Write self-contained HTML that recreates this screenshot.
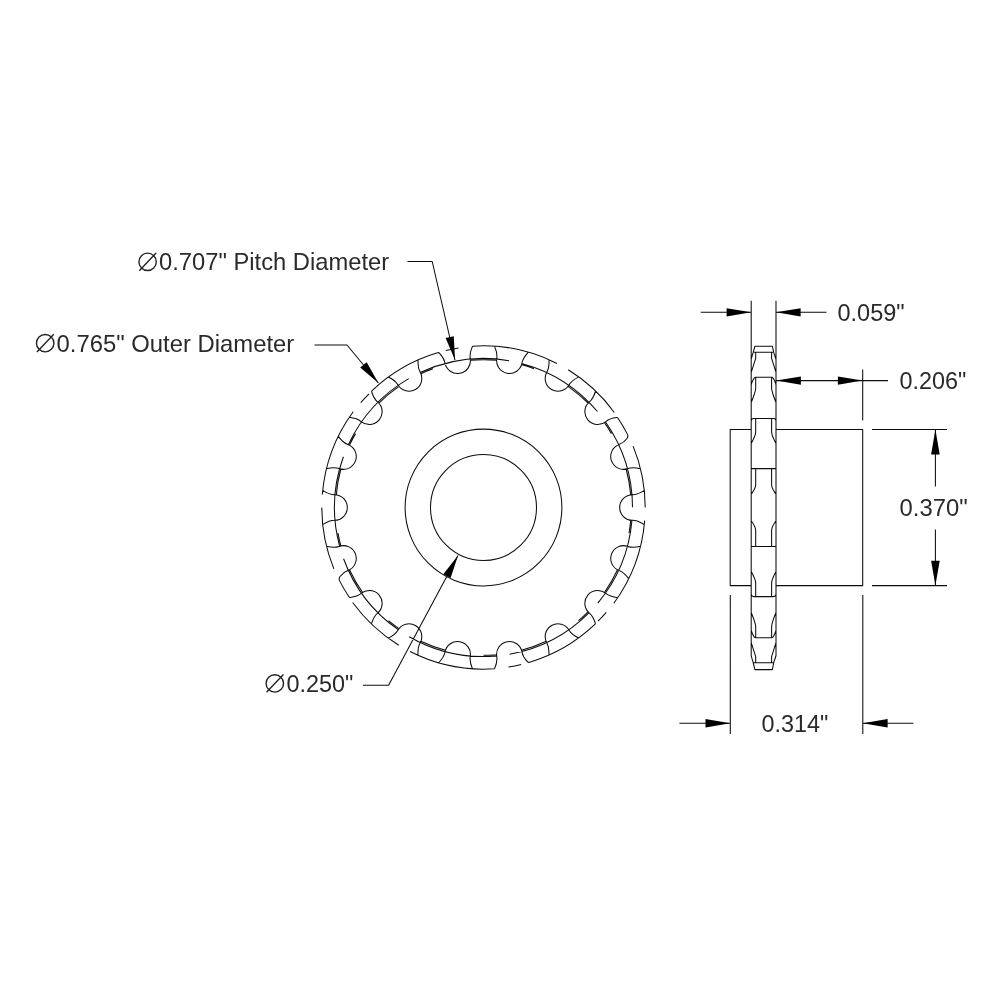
<!DOCTYPE html>
<html><head><meta charset="utf-8"><title>Sprocket drawing</title>
<style>
html,body{margin:0;padding:0;background:#fff;}
body{width:1000px;height:1000px;overflow:hidden;}
svg{display:block;filter:grayscale(1);}
.ln path,.ln circle{fill:none;stroke:#0c0c0c;stroke-width:1.05;stroke-linecap:butt;stroke-linejoin:round;}
.ln .ah{fill:#000;stroke:none;}
.ln .t{stroke:#222;stroke-width:1.4;}
text{font-family:"Liberation Sans",sans-serif;font-size:24.2px;fill:#2a2a2a;}
</style></head><body>
<svg width="1000" height="1000" viewBox="0 0 1000 1000">
<rect width="1000" height="1000" fill="#fff"/>
<g class="ln">
<path d="M496.77 358.54A12.80 12.80 0 0 0 521.98 362.99M546.91 372.06A12.80 12.80 0 0 0 569.09 384.86M589.41 401.92A12.80 12.80 0 0 0 605.87 421.53M619.14 444.51A12.80 12.80 0 0 0 627.89 468.57M632.50 494.70A12.80 12.80 0 0 0 632.50 520.30M627.89 546.43A12.80 12.80 0 0 0 619.14 570.49M605.87 593.47A12.80 12.80 0 0 0 589.41 613.08M569.09 630.14A12.80 12.80 0 0 0 546.91 642.94M521.98 652.01A12.80 12.80 0 0 0 496.77 656.46M470.23 656.46A12.80 12.80 0 0 0 445.02 652.01M420.09 642.94A12.80 12.80 0 0 0 397.91 630.14M377.59 613.08A12.80 12.80 0 0 0 361.13 593.47M347.86 570.49A12.80 12.80 0 0 0 339.11 546.43M334.50 520.30A12.80 12.80 0 0 0 334.50 494.70M339.11 468.57A12.80 12.80 0 0 0 347.86 444.51M361.13 421.53A12.80 12.80 0 0 0 377.59 401.92M397.91 384.86A12.80 12.80 0 0 0 420.09 372.06M445.02 362.99A12.80 12.80 0 0 0 470.23 358.54M470.23 358.54Q469.36 353.62 472.50 346.17M496.77 358.54Q497.64 353.62 494.50 346.17M521.98 362.99Q522.85 358.06 528.34 352.14M546.91 372.06Q549.41 367.73 549.01 359.67M569.09 384.86Q571.59 380.53 578.77 376.85M589.41 401.92Q593.24 398.71 595.62 390.99M605.87 421.53Q609.70 418.32 616.65 417.53Q617.55 417.42 618.05 418.17M619.14 444.51Q623.83 442.80 626.99 438.54Q628.53 436.45 627.37 434.13M618.05 418.17A161.50 161.50 0 0 1 627.37 434.13M627.89 468.57Q632.59 466.86 640.46 468.66M632.50 494.70Q637.50 494.70 644.28 490.32M632.50 520.30Q637.50 520.30 644.28 524.68M627.89 546.43Q632.59 548.14 640.46 546.34M619.14 570.49Q623.83 572.20 628.71 578.64M605.87 593.47Q609.70 596.68 617.71 597.69M589.41 613.08Q593.24 616.29 595.23 623.01Q595.48 623.87 594.83 624.49M569.09 630.14Q571.59 634.47 578.66 637.99M546.91 642.94Q549.41 647.27 548.93 655.15M521.98 652.01Q522.85 656.94 527.39 661.72Q528.29 662.67 529.53 662.30M496.77 656.46Q497.64 661.38 494.50 668.83M470.23 656.46Q469.36 661.38 472.50 668.83M445.02 652.01Q444.15 656.94 438.66 662.86M420.09 642.94Q417.59 647.27 417.99 655.33M397.91 630.14Q395.41 634.47 388.23 638.15M377.59 613.08Q373.76 616.29 371.38 624.01M361.13 593.47Q357.30 596.68 350.35 597.47Q349.45 597.58 348.95 596.83M347.86 570.49Q343.17 572.20 340.01 576.46Q338.47 578.55 339.63 580.87M348.95 596.83A161.50 161.50 0 0 1 339.63 580.87M339.11 546.43Q334.41 548.14 326.54 546.34M334.50 520.30Q329.50 520.30 322.72 524.68M334.50 494.70Q329.50 494.70 322.72 490.32M339.11 468.57Q334.41 466.86 326.54 468.66M347.86 444.51Q343.17 442.80 338.29 436.36M361.13 421.53Q357.30 418.32 349.29 417.31M377.59 401.92Q373.76 398.71 371.77 391.99Q371.52 391.13 372.17 390.51M397.91 384.86Q395.41 380.53 388.34 377.01M420.09 372.06Q417.59 367.73 418.07 359.85M445.02 362.99Q444.15 358.06 439.61 353.28Q438.71 352.33 437.47 352.70M472.50 346.17A161.70 161.70 0 0 1 556.91 363.42M568.23 369.78A161.70 161.70 0 0 1 614.32 412.46M633.11 446.14A161.70 161.70 0 0 1 645.20 507.50M644.68 520.47A161.70 161.70 0 0 1 613.82 603.23M606.23 612.32A161.40 161.40 0 0 1 598.02 621.23M594.83 624.49A161.50 161.50 0 0 1 529.53 662.30M521.18 664.44A161.40 161.40 0 0 1 508.47 666.96M494.50 668.83A161.70 161.70 0 0 1 410.09 651.58M398.77 645.22A161.70 161.70 0 0 1 352.68 602.54M333.89 568.86A161.70 161.70 0 0 1 321.80 507.50M322.32 494.53A161.70 161.70 0 0 1 353.18 411.77M360.77 402.68A161.40 161.40 0 0 1 368.98 393.77M372.17 390.51A161.50 161.50 0 0 1 437.47 352.70M445.82 350.56A161.40 161.40 0 0 1 458.53 348.04M522.32 363.64A149.00 149.00 0 0 1 597.47 411.53M521.99 364.85A147.75 147.75 0 0 1 534.03 368.66M568.03 386.32A147.75 147.75 0 0 1 588.16 403.21M605.70 422.25A149.00 149.00 0 0 1 632.50 507.24M604.68 422.97A147.75 147.75 0 0 1 611.46 433.62M626.15 469.01A147.75 147.75 0 0 1 630.71 494.88M631.91 520.75A149.00 149.00 0 0 1 597.81 603.08M630.67 520.63A147.75 147.75 0 0 1 629.01 533.16M617.52 569.71A147.75 147.75 0 0 1 604.38 592.46M588.67 613.04A149.00 149.00 0 0 1 509.63 654.19M587.79 612.16A147.75 147.75 0 0 1 578.47 620.68M546.18 641.30A147.75 147.75 0 0 1 521.49 650.28M496.23 655.96A149.00 149.00 0 0 1 409.23 636.67M496.12 654.71A147.75 147.75 0 0 1 483.50 655.25M445.51 650.28A147.75 147.75 0 0 1 420.82 641.30M397.82 629.40A149.00 149.00 0 0 1 343.57 558.71M398.54 628.38A147.75 147.75 0 0 1 388.53 620.68M362.62 592.46A147.75 147.75 0 0 1 349.48 569.71M339.51 545.81A149.00 149.00 0 0 1 343.40 456.78M340.72 545.49A147.75 147.75 0 0 1 337.99 533.16M336.29 494.88A147.75 147.75 0 0 1 340.85 469.01M348.57 444.29A149.00 149.00 0 0 1 408.77 378.59M349.70 444.82A147.75 147.75 0 0 1 355.54 433.62M378.84 403.21A147.75 147.75 0 0 1 398.97 386.32M420.77 372.35A149.00 149.00 0 0 1 509.12 360.72M421.29 373.48A147.75 147.75 0 0 1 432.97 368.66M470.37 360.33A147.75 147.75 0 0 1 496.63 360.33M407.5 261.5H432.2L455 360M314.5 345H347L378.4 383M363 685.2H388.6L458 555.4M751.2 300.8V656.5M776.0 300.8V656.5M751.2 429.4H730.2V585.6H751.2M776.0 429.4H862.7V585.6H776.0M753.20 352.30L754.9 346.25H772.4L773.70 352.30M753.20 352.30Q752.00 356.00 751.2 359.50M773.70 352.30Q775.00 356.00 776.0 359.50M753.20 352.30H773.70M755.7 352.60V358.40L751.2 372.40M771.6 352.60V358.40L776.0 372.40M754.9 377.30H772.4M754.9 377.30Q752.70 379.30 751.2 384.80M772.4 377.30Q774.60 379.30 776.0 384.80M755.7 377.30V388.30Q755.7 391.60 751.2 402.50M771.6 377.30V388.30Q771.6 391.60 776.0 402.50M751.2 420.90Q751.2 418.40 753.70 418.40H773.50Q776.0 418.40 776.0 420.90M755.7 418.40V432.00Q755.7 435.30 751.2 443.50M771.6 418.40V432.00Q771.6 435.30 776.0 443.50M751.2 468.60H776.0M755.7 468.60V484.70Q755.7 488.00 751.2 494.20M771.6 468.60V484.70Q771.6 488.00 776.0 494.20M753.20 662.70L754.9 669.60H772.4L773.70 662.70M753.20 662.70Q752.00 659.00 751.2 655.50M773.70 662.70Q775.00 659.00 776.0 655.50M753.20 662.70H773.70M755.7 662.40V656.60L751.2 642.60M771.6 662.40V656.60L776.0 642.60M754.9 637.70H772.4M754.9 637.70Q752.70 635.70 751.2 630.20M772.4 637.70Q774.60 635.70 776.0 630.20M755.7 637.70V626.70Q755.7 623.40 751.2 612.50M771.6 637.70V626.70Q771.6 623.40 776.0 612.50M751.2 594.10Q751.2 596.60 753.70 596.60H773.50Q776.0 596.60 776.0 594.10M755.7 596.60V583.00Q755.7 579.70 751.2 571.50M771.6 596.60V583.00Q771.6 579.70 776.0 571.50M751.2 546.40H776.0M755.7 546.40V530.30Q755.7 527.00 751.2 520.80M771.6 546.40V530.30Q771.6 527.00 776.0 520.80M700.8 312.3H751M776 312.3H826.5M776 380.6H888M862.7 369.6V420.4M872 429.5H947M872 585.6H947M935.4 429.6V486.4M935.4 529.4V585.6M730.3 595V734M862.8 595V734M679.4 723.2H730.3M862.8 723.2H913.4"/>
<circle cx="483.5" cy="507.5" r="78.4"/>
<circle cx="483.5" cy="507.5" r="53.0"/>
<polygon class="ah" points="455.00 360.00 445.61 338.05 453.79 336.16"/>
<polygon class="ah" points="378.40 383.00 360.19 367.56 366.67 362.21"/>
<polygon class="ah" points="458.00 555.40 450.62 578.10 443.22 574.14"/>
<polygon class="ah" points="751.20 312.30 726.60 316.40 726.60 308.20"/>
<polygon class="ah" points="776.00 312.30 800.60 308.20 800.60 316.40"/>
<polygon class="ah" points="776.30 380.60 800.90 376.50 800.90 384.70"/>
<polygon class="ah" points="862.50 380.60 837.90 384.70 837.90 376.50"/>
<polygon class="ah" points="935.40 429.60 939.70 454.40 931.10 454.40"/>
<polygon class="ah" points="935.40 585.60 931.10 560.80 939.70 560.80"/>
<polygon class="ah" points="730.30 723.20 705.50 727.40 705.50 719.00"/>
<polygon class="ah" points="862.80 723.20 887.60 719.00 887.60 727.40"/>
<circle class="t" cx="147.60" cy="261.80" r="8.7"/>
<path class="t" d="M139.30 270.70L156.20 252.90"/>
<circle class="t" cx="45.20" cy="343.20" r="8.7"/>
<path class="t" d="M36.90 352.10L53.80 334.30"/>
<circle class="t" cx="274.80" cy="683.40" r="8.7"/>
<path class="t" d="M266.50 692.30L283.40 674.50"/>
</g>
<g>
<text x="159.00" y="270.40" text-anchor="start" textLength="230.10" lengthAdjust="spacingAndGlyphs">0.707&quot; Pitch Diameter</text>
<text x="56.60" y="351.60" text-anchor="start" textLength="237.60" lengthAdjust="spacingAndGlyphs">0.765&quot; Outer Diameter</text>
<text x="286.40" y="691.80" text-anchor="start" textLength="66.90" lengthAdjust="spacingAndGlyphs">0.250&quot;</text>
<text x="837.50" y="320.70" text-anchor="start" textLength="67.20" lengthAdjust="spacingAndGlyphs">0.059&quot;</text>
<text x="899.40" y="388.90" text-anchor="start" textLength="66.90" lengthAdjust="spacingAndGlyphs">0.206&quot;</text>
<text x="899.60" y="516.10" text-anchor="start" textLength="68.10" lengthAdjust="spacingAndGlyphs">0.370&quot;</text>
<text x="761.50" y="731.60" text-anchor="start" textLength="66.90" lengthAdjust="spacingAndGlyphs">0.314&quot;</text>
</g>

</svg>
</body></html>
